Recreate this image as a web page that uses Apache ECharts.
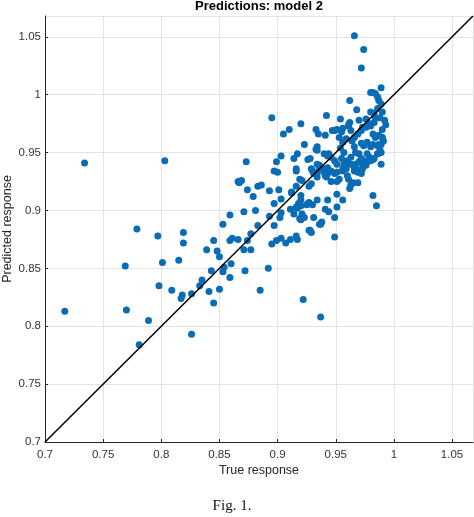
<!DOCTYPE html>
<html>
<head>
<meta charset="utf-8">
<script src="https://cdn.jsdelivr.net/npm/echarts@6/dist/echarts.min.js"></script>
<style>
  html, body { margin: 0; padding: 0; background: #fff; }
  .chart { width: 474px; height: 517px; }
</style>
</head>
<body>
<div class="chart"></div>
<script>
// 真实值 (x)
var trueResp = [
    0.717, 0.734, 0.769, 0.770, 0.781, 0.779, 0.789, 0.797, 0.798, 0.801,
    0.803, 0.809, 0.815, 0.818, 0.817, 0.819, 0.819, 0.826, 0.826, 0.833,
    0.835, 0.841, 0.843, 0.845, 0.850, 0.839, 0.845, 0.848, 0.850, 0.853,
    0.854, 0.859, 0.860, 0.853, 0.859, 0.859, 0.861, 0.866, 0.866, 0.872,
    0.871, 0.877, 0.885, 0.892, 0.922, 0.937, 0.874, 0.877, 0.883, 0.871,
    0.881, 0.893, 0.897, 0.895, 0.899, 0.903, 0.907, 0.911, 0.916, 0.917,
    0.903, 0.897, 0.911, 0.916, 0.920, 0.927, 0.918, 0.926, 0.895, 0.905,
    0.910, 0.920, 0.923, 0.873, 0.903, 0.899, 0.914, 0.917, 0.926, 0.916,
    0.916, 0.897, 0.900, 0.869, 0.867, 0.883, 0.886, 0.874, 0.893, 0.901,
    0.879, 0.903, 0.912, 0.919, 0.921, 0.916, 0.920, 0.917, 0.920, 0.925,
    0.966, 0.974, 0.972, 0.989, 0.980, 0.982, 0.984, 0.986, 0.987, 0.989,
    0.986, 0.990, 0.988, 0.992, 0.993, 0.962, 0.968, 0.980, 0.942, 0.954,
    0.962, 0.961, 0.933, 0.935, 0.947, 0.951, 0.955, 0.941, 0.953, 0.934,
    0.934, 0.944, 0.928, 0.929, 0.931, 0.936, 0.943, 0.934, 0.941, 0.943,
    0.927, 0.929, 0.912, 0.951, 0.961, 0.965, 0.963, 0.962, 0.956, 0.957,
    0.959, 0.943, 0.951, 0.944, 0.951, 0.949, 0.919, 0.931, 0.937, 0.928,
    0.929, 0.949, 0.982, 0.985, 0.989, 0.986, 0.987, 0.990, 0.982, 0.977,
    0.974, 0.970, 0.967, 0.976, 0.973, 0.972, 0.969, 0.966, 0.956, 0.934,
    0.941, 0.936, 0.938, 0.969, 0.970, 0.966, 0.959, 0.956, 0.951, 0.949,
    0.946, 0.942, 0.940, 0.938, 0.936, 0.930, 0.934, 0.934, 0.940, 0.943,
    0.946, 0.949, 0.951, 0.933, 0.949, 0.956, 0.961, 0.969, 0.972, 0.976,
    0.979, 0.982, 0.984, 0.987, 0.990, 0.983, 0.980, 0.972, 0.974, 0.977,
    0.980, 0.982, 0.986, 0.989, 0.977, 0.979, 0.980, 0.983, 0.986, 0.989,
    0.970, 0.972, 0.973, 0.966, 0.967, 0.963, 0.960, 0.963, 0.964, 0.966,
    0.970, 0.973, 0.976, 0.984, 0.920, 0.927, 0.930, 0.902, 0.914, 0.921,
    0.923, 0.983, 0.963, 0.959, 0.956, 0.954, 0.957, 0.955, 0.990, 0.991,
    0.988, 0.960, 0.953, 0.946
];
// 预测值 (y)
var predResp = [
    0.813, 0.941, 0.852, 0.814, 0.784, 0.884, 0.805, 0.878, 0.835, 0.855,
    0.943, 0.831, 0.857, 0.827, 0.824, 0.881, 0.872, 0.828, 0.793, 0.835,
    0.840, 0.830, 0.848, 0.820, 0.832, 0.866, 0.874, 0.865, 0.860, 0.847,
    0.851, 0.842, 0.854, 0.888, 0.896, 0.874, 0.876, 0.875, 0.925, 0.848,
    0.866, 0.866, 0.831, 0.850, 0.823, 0.808, 0.874, 0.880, 0.887, 0.899,
    0.900, 0.895, 0.887, 0.871, 0.874, 0.876, 0.872, 0.875, 0.878, 0.875,
    0.898, 0.906, 0.901, 0.903, 0.892, 0.883, 0.906, 0.906, 0.980, 0.966,
    0.970, 0.975, 0.957, 0.942, 0.947, 0.942, 0.945, 0.949, 0.944, 0.936,
    0.934, 0.934, 0.933, 0.926, 0.924, 0.921, 0.922, 0.918, 0.917, 0.918,
    0.912, 0.910, 0.916, 0.927, 0.926, 0.921, 0.913, 0.902, 0.904, 0.905,
    1.051, 1.039, 1.023, 1.006, 1.002, 1.002, 1.001, 0.998, 0.995, 0.992,
    0.988, 0.985, 0.980, 0.978, 0.974, 0.995, 0.987, 0.985, 0.982, 0.979,
    0.976, 0.974, 0.970, 0.966, 0.969, 0.970, 0.968, 0.965, 0.963, 0.955,
    0.952, 0.949, 0.945, 0.936, 0.932, 0.936, 0.937, 0.929, 0.930, 0.932,
    0.921, 0.923, 0.915, 0.925, 0.927, 0.924, 0.922, 0.919, 0.936, 0.940,
    0.939, 0.909, 0.914, 0.899, 0.903, 0.894, 0.893, 0.894, 0.888, 0.883,
    0.881, 0.877, 0.913, 0.904, 0.940, 0.949, 0.957, 0.963, 0.944, 0.942,
    0.943, 0.942, 0.940, 0.939, 0.936, 0.932, 0.933, 0.934, 0.909, 0.909,
    0.901, 0.888, 0.890, 0.924, 0.935, 0.937, 0.936, 0.934, 0.933, 0.932,
    0.934, 0.929, 0.933, 0.937, 0.939, 0.934, 0.932, 0.940, 0.949, 0.947,
    0.946, 0.943, 0.940, 0.953, 0.969, 0.971, 0.973, 0.966, 0.969, 0.972,
    0.975, 0.966, 0.963, 0.965, 0.963, 0.976, 0.973, 0.958, 0.956, 0.959,
    0.955, 0.957, 0.956, 0.957, 0.949, 0.946, 0.943, 0.945, 0.949, 0.950,
    0.949, 0.945, 0.940, 0.955, 0.950, 0.946, 0.943, 0.940, 0.960, 0.963,
    0.978, 0.972, 0.979, 0.980, 0.909, 0.907, 0.905, 0.894, 0.897, 0.897,
    0.894, 0.984, 0.969, 0.962, 0.959, 0.954, 0.950, 0.945, 0.970, 0.960,
    0.952, 0.930, 0.927, 0.925
];
// 坐标轴范围和刻度
var axisMin = 0.7;
var axisMax = 1.068;
var tickStep = 0.05;

(function () {
    var myChart = echarts.init(document.querySelector('.chart'));

    // 组合成散点数据
    var points = [];
    for (var i = 0; i < trueResp.length; i++) {
        points.push([trueResp[i], predResp[i]]);
    }

    var axisStyle = function (name, gap, rotate, margin) {
        return {
            type: 'value',
            min: axisMin,
            max: axisMax,
            interval: tickStep,
            name: name,
            nameLocation: 'middle',
            nameGap: gap,
            nameRotate: rotate,
            nameMoveOverlap: false,
            nameTextStyle: { color: '#262626', fontSize: 12.5, fontFamily: 'Liberation Sans' },
            axisLine: { lineStyle: { color: '#262626', width: 1 } },
            axisTick: { inside: true, length: 3, lineStyle: { color: '#262626' } },
            axisLabel: {
                color: '#333',
                fontSize: 11.5,
                fontFamily: 'Liberation Sans',
                showMaxLabel: false,
                margin: margin
            },
            splitLine: { show: true, lineStyle: { color: '#e3e3e3', width: 1 } }
        };
    };

    var option = {
        animation: false,
        title: [
            {
                text: 'Predictions: model 2',
                left: 259,
                top: 0,
                padding: 0,
                textAlign: 'center',
                textStyle: { fontSize: 13, fontWeight: 'bold', color: '#000', fontFamily: 'Liberation Sans' }
            },
            {
                text: 'Fig. 1.',
                left: 232,
                top: 499,
                padding: 0,
                textAlign: 'center',
                textStyle: { fontSize: 15, fontWeight: 'normal', color: '#111', fontFamily: 'Liberation Serif' }
            }
        ],
        grid: {
            left: 45,
            right: 1,
            top: 16,
            bottom: 75,
            containLabel: false,
            outerBoundsMode: 'none'
        },
        xAxis: axisStyle('True response', 22, 0, 7),
        yAxis: axisStyle('Predicted response', 31, 90, 4),
        series: [
            {
                name: 'points',
                type: 'scatter',
                symbolSize: 7,
                itemStyle: { color: '#0a6cb5', opacity: 1 },
                data: points
            },
            {
                // y = x 参考线
                name: 'diag',
                type: 'line',
                symbol: 'none',
                lineStyle: { color: '#000', width: 1.5 },
                data: [[axisMin, axisMin], [axisMax, axisMax]]
            }
        ]
    };

    myChart.setOption(option);
    window.addEventListener('resize', function () {
        myChart.resize();
    });
})();
</script>
</body>
</html>
